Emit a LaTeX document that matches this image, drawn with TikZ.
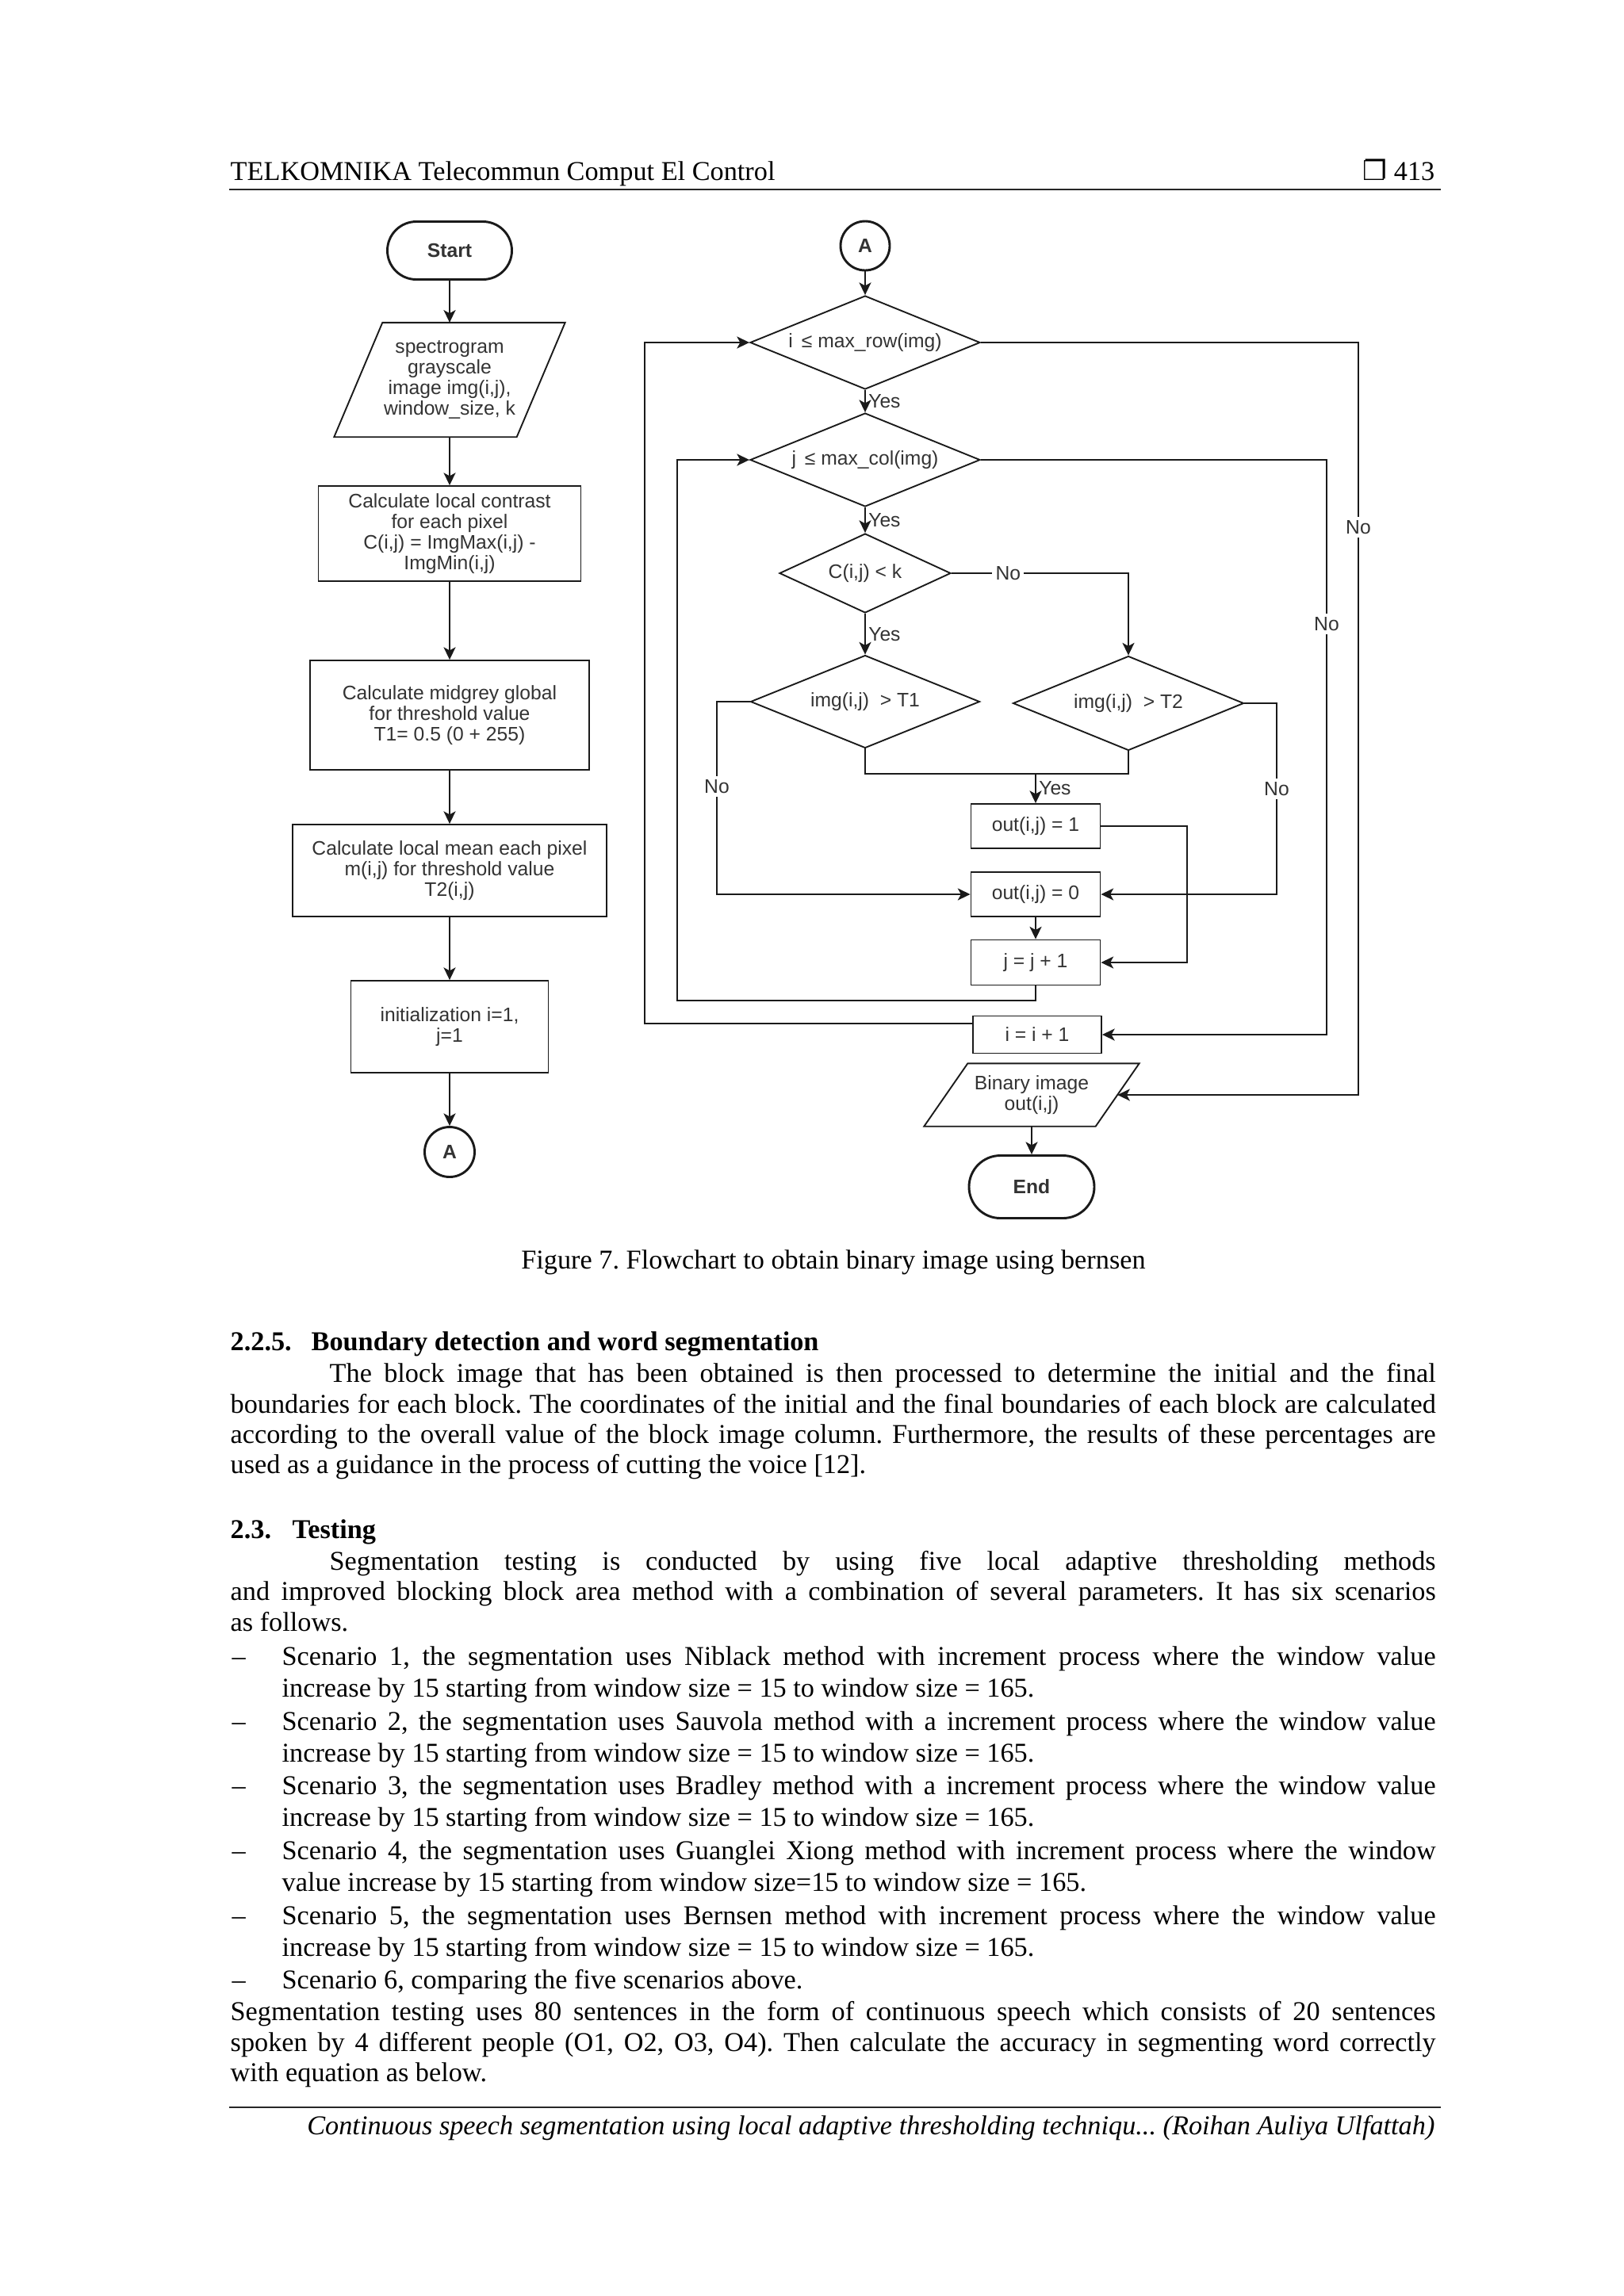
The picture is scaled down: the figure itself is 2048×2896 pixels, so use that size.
\documentclass[tikz,border=0pt]{standalone}
\usepackage{fontspec}
\setmainfont{Liberation Serif}
\newfontfamily\fcfam{Liberation Sans}
\newfontfamily\dejavu{DejaVu Sans}
\usetikzlibrary{shapes.geometric,shapes.misc,arrows.meta,calc}
\frenchspacing
\newdimen\pxu
\pxu=0.1025390625mm
\def\pu{0.1025390625mm}
\definecolor{fctext}{HTML}{333333}
\definecolor{fcline}{HTML}{1A1A1A}
\newcommand\fcfont{\fcfam\fontsize{7.2}{7.6}\selectfont}
\newcommand\bodyfont{\fontsize{10}{12}\selectfont}
\tikzset{
  fc/.style={font=\fcfont, text=fctext},
  proc/.style={fc, draw=fcline, line width=0.55pt, rectangle, inner sep=0pt, align=center},
  term/.style={draw=fcline, line width=0.85pt, rounded rectangle, inner sep=0pt, font=\fcfont\bfseries, text=fctext},
  dec/.style={fc, draw=fcline, line width=0.55pt, diamond, inner sep=0pt, align=center},
  conn/.style={draw=fcline, line width=0.85pt, circle, inner sep=0pt, font=\fcfont\bfseries, text=fctext},
  iobox/.style={fc, inner sep=0pt, align=center},
  ioline/.style={draw=fcline, line width=0.55pt},
  arr/.style={draw=fcline, line width=0.5pt, -{Stealth[length=4.6pt,width=4.4pt,inset=1.2pt]}},
  ln/.style={draw=fcline, line width=0.5pt},
  lbl/.style={fc, inner sep=1pt},
  nolbl/.style={fc, inner sep=1.2pt, fill=white},
  bt/.style={anchor=base west, inner sep=0pt, font=\bodyfont},
  rulel/.style={draw=black!85, line width=0.6pt}
}
\begin{document}
\begin{tikzpicture}[x=\pu, y=-\pu]
\useasboundingbox (0,0) rectangle (2048,2896);
\fill[white] (0,0) rectangle (2048,2896);

% ---------- header ----------
\node[bt] (hdl) at (290,227) {TELKOMNIKA Telecommun Comput El Control};
\node[anchor=base east, inner sep=0pt, font=\bodyfont] (hdr) at (1810,227) {{\dejavu ❐} 413};
\coordinate (hr1) at (289,239);
\coordinate (hr2) at (1817,239);
\draw[rulel] (hr1) -- (hr2);

% ---------- left column ----------
\node[term, minimum width=157*\pu, minimum height=73*\pu] (start) at (567,316) {Start};
\node[iobox, minimum width=229*\pu, minimum height=143*\pu] (p1) at (567,479) {spectrogram\\grayscale\\image img(i,j),\\window\_size, k};
\draw[ioline] ($(p1.south west)+(-30.5,0)$) -- ($(p1.south east)+(-30.5,0)$) -- ($(p1.north east)+(30.5,0)$) -- ($(p1.north west)+(30.5,0)$) -- cycle;
\node[proc, minimum width=331*\pu, minimum height=120*\pu] (b1) at (567,673) {Calculate local contrast\\for each pixel\\C(i,j) = ImgMax(i,j) -\\ImgMin(i,j)};
\node[proc, minimum width=352*\pu, minimum height=138*\pu] (b2) at (567,902) {Calculate midgrey global\\for threshold value\\T1= 0.5 (0 + 255)};
\node[proc, minimum width=396*\pu, minimum height=116*\pu] (b3) at (567,1098) {Calculate local mean each pixel\\m(i,j) for threshold value\\T2(i,j)};
\node[proc, minimum width=249*\pu, minimum height=116*\pu] (b4) at (567,1295) {initialization i=1,\\j=1};
\node[conn, minimum size=63*\pu] (a1) at (567,1453) {A};

\draw[arr] (start.south) -- (p1.north);
\draw[arr] (p1.south) -- (b1.north);
\draw[arr] (b1.south) -- (b2.north);
\draw[arr] (b2.south) -- (b3.north);
\draw[arr] (b3.south) -- (b4.north);
\draw[arr] (b4.south) -- (a1.north);

% ---------- right column ----------
\node[conn, minimum size=62*\pu] (a2) at (1091,310) {A};
\node[dec, aspect=2.46, minimum width=290*\pu, minimum height=118*\pu] (d1) at (1091,432) {i \,≤ max\_row(img)};
\node[dec, aspect=2.46, minimum width=290*\pu, minimum height=118*\pu] (d2) at (1091,580) {j \,≤ max\_col(img)};
\node[dec, aspect=2.16, minimum width=216*\pu, minimum height=100*\pu] (d3) at (1091,723) {C(i,j) < k};
\node[dec, aspect=2.47, minimum width=289*\pu, minimum height=117*\pu] (d4) at (1091,885) {img(i,j) \ > T1};
\node[dec, aspect=2.45, minimum width=291*\pu, minimum height=119*\pu] (d5) at (1423,887) {img(i,j) \ > T2};
\node[proc, minimum width=163*\pu, minimum height=56*\pu] (o1) at (1306,1042) {out(i,j) = 1};
\node[proc, minimum width=163*\pu, minimum height=56*\pu] (o0) at (1306,1128) {out(i,j) = 0};
\node[proc, minimum width=163*\pu, minimum height=57*\pu] (jb) at (1306,1214) {j = j + 1};
\node[proc, minimum width=162*\pu, minimum height=47*\pu] (ib) at (1308,1305) {i = i + 1};
\node[iobox, minimum width=215*\pu, minimum height=78*\pu] (p2) at (1301,1381) {Binary image\\out(i,j)};
\draw[ioline] ($(p2.south west)+(-27.5,0)$) -- ($(p2.south east)+(-27.5,0)$) -- ($(p2.north east)+(27.5,0)$) -- ($(p2.north west)+(27.5,0)$) -- cycle;
\node[term, minimum width=158*\pu, minimum height=79*\pu] (end) at (1301,1497) {End};

\coordinate (xl1) at (813,0);
\coordinate (xl2) at (854,0);
\coordinate (xr2) at (1673,0);
\coordinate (xr1) at (1713,0);
\coordinate (xn4) at (904,0);
\coordinate (xn5) at (1610,0);
\coordinate (xo1) at (1497,0);
\coordinate (ymg) at (0,976);
\coordinate (yjl) at (0,1262);

\draw[arr] (a2.south) -- (d1.north);
\draw[arr] (d1.south) -- node[lbl, right] (y1) {Yes} (d2.north);
\draw[arr] (d2.south) -- node[lbl, right] (y2) {Yes} (d3.north);
\draw[arr] (d3.south) -- node[lbl, right] (y3) {Yes} (d4.north);
\draw[arr] (d3.east) -| node[nolbl, pos=0.16] (n3) {No} (d5.north);
\draw[arr] (d4.west) -| (xn4 |- o0.west) -- (o0.west);
\draw[arr] (d5.east) -| (xn5 |- o0.east) -- (o0.east);
\draw[ln] (d4.south) |- (ymg -| d5.south) -- (d5.south);
\draw[arr] (o1.north |- ymg) -- node[lbl, right] (y4) {Yes} (o1.north);
\draw[arr] (o1.east) -| (xo1 |- jb.east) -- (jb.east);
\draw[arr] (o0.south) -- (jb.north);
\draw[arr] (jb.south) -- (jb.south |- yjl) -| (xl2 |- d2.west) -- (d2.west);
\draw[arr] ($(ib.west)+(0,-14)$) -| (xl1 |- d1.west) -- (d1.west);
\draw[arr] (d2.east) -| (xr2 |- ib.east) -- (ib.east);
\draw[arr] (d1.east) -| (xr1 |- p2.east) -- (p2.east);
\draw[arr] (p2.south) -- (end.north);

\node[nolbl] (n1) at (1713,665) {No};
\node[nolbl] (n2) at (1673,787) {No};
\node[nolbl] (n4) at (904,992) {No};
\node[nolbl] (n5) at (1610,995) {No};

% ---------- caption and text ----------
\node[anchor=base, inner sep=0pt, font=\bodyfont] (cap) at (1051,1600) {Figure 7. Flowchart to obtain binary image using bernsen};

\node[bt] (s1n) at (290,1703) {\textbf{2.2.5.}};
\node[bt] (s1t) at (392,1703) {\textbf{Boundary detection and word segmentation}};
\node[bt] (l1) at (415,1743) {\makebox[1395\pxu][s]{The block image that has been obtained is then processed to determine the initial and the final}};
\node[bt] (l2) at (290,1782) {\makebox[1520\pxu][s]{boundaries for each block. The coordinates of the initial and the final boundaries of each block are calculated}};
\node[bt] (l3) at (290,1820) {\makebox[1520\pxu][s]{according to the overall value of the block image column. Furthermore, the results of these percentages are}};
\node[bt] (l4) at (290,1858) {used as a guidance in the process of cutting the voice [12].};

\node[bt] (s2n) at (290,1940) {\textbf{2.3.}};
\node[bt] (s2t) at (368,1940) {\textbf{Testing}};
\node[bt] (m1) at (415,1980) {\makebox[1395\pxu][s]{Segmentation testing is conducted by using five local adaptive thresholding methods}};
\node[bt] (m2) at (290,2018) {\makebox[1520\pxu][s]{and improved blocking block area method with a combination of several parameters. It has six scenarios}};
\node[bt] (m3) at (290,2057) {as follows.};

\node[bt] (d1b) at (292,2100) {–};
\node[bt] (b1a) at (355,2100) {\makebox[1455\pxu][s]{Scenario 1, the segmentation uses Niblack method with increment process where the window value}};
\node[bt] (b1b) at (355,2140) {increase by 15 starting from window size = 15 to window size = 165.};
\node[bt] (d2b) at (292,2182) {–};
\node[bt] (b2a) at (355,2182) {\makebox[1455\pxu][s]{Scenario 2, the segmentation uses Sauvola method with a increment process where the window value}};
\node[bt] (b2b) at (355,2222) {increase by 15 starting from window size = 15 to window size = 165.};
\node[bt] (d3b) at (292,2263) {–};
\node[bt] (b3a) at (355,2263) {\makebox[1455\pxu][s]{Scenario 3, the segmentation uses Bradley method with a increment process where the window value}};
\node[bt] (b3b) at (355,2303) {increase by 15 starting from window size = 15 to window size = 165.};
\node[bt] (d4b) at (292,2345) {–};
\node[bt] (b4a) at (355,2345) {\makebox[1455\pxu][s]{Scenario 4, the segmentation uses Guanglei Xiong method with increment process where the window}};
\node[bt] (b4b) at (355,2385) {value increase by 15 starting from window size=15 to window size = 165.};
\node[bt] (d5b) at (292,2427) {–};
\node[bt] (b5a) at (355,2427) {\makebox[1455\pxu][s]{Scenario 5, the segmentation uses Bernsen method with increment process where the window value}};
\node[bt] (b5b) at (355,2467) {increase by 15 starting from window size = 15 to window size = 165.};
\node[bt] (d6b) at (292,2508) {–};
\node[bt] (b6a) at (355,2508) {Scenario 6, comparing the five scenarios above.};

\node[bt] (q1) at (290,2548) {\makebox[1520\pxu][s]{Segmentation testing uses 80 sentences in the form of continuous speech which consists of 20 sentences}};
\node[bt] (q2) at (290,2587) {\makebox[1520\pxu][s]{spoken by 4 different people (O1, O2, O3, O4). Then calculate the accuracy in segmenting word correctly}};
\node[bt] (q3) at (290,2625) {with equation as below.};

\coordinate (fr1) at (289,2658);
\coordinate (fr2) at (1817,2658);
\draw[rulel] (fr1) -- (fr2);
\node[anchor=base east, inner sep=0pt, font=\bodyfont\itshape] (ftr) at (1810,2692) {Continuous speech segmentation using local adaptive thresholding techniqu... (Roihan Auliya Ulfattah)};
\end{tikzpicture}
\end{document}
